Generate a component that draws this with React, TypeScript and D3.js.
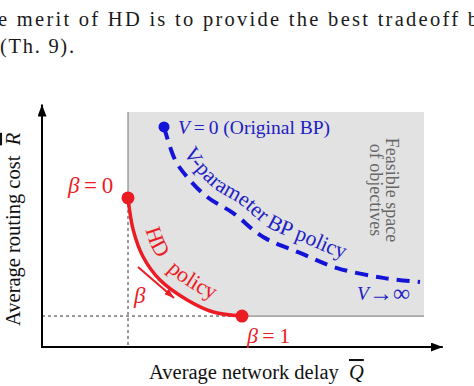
import React, { useEffect, useRef } from 'react';
import * as d3 from 'd3';

// HD policy curve (normalised delay / cost units)
const hdDelay = [2.15, 2.28, 2.53, 2.95, 3.63, 4.28, 5.0];
const hdCost = [6.21, 4.88, 3.75, 2.79, 1.96, 1.46, 1.29];

// V-parameter BP policy curve
const bpDelay = [3.05, 3.33, 3.63, 4.13, 4.78, 5.53, 6.45, 7.38, 8.53, 9.45];
const bpCost = [9.17, 7.79, 7.08, 6.25, 5.58, 4.58, 3.92, 3.29, 2.88, 2.71];

// feasible region bounds
const feasibleDelay = [2.15, 9.55];
const feasibleCost = [1.29, 9.79];

const RED = '#ec1c24';
const BLUE = '#1414d8';
const BLUE_TEXT = '#2020c4';
const SERIF = '"Liberation Serif", "Times New Roman", serif';

const App = () => {
  const svgRef = useRef<SVGSVGElement>(null);

  useEffect(() => {
    const width = 474;
    const height = 386;
    const svg = d3.select(svgRef.current).attr('width', width).attr('height', height);
    svg.selectAll('*').remove();

    const x = d3.scaleLinear().domain([0, 10]).range([42, 442]);
    const y = d3.scaleLinear().domain([0, 10]).range([347, 107]);

    const hd: [number, number][] = hdDelay.map((d, i) => [x(d), y(hdCost[i])]);
    const bp: [number, number][] = bpDelay.map((d, i) => [x(d), y(bpCost[i])]);

    const line = d3.line().curve(d3.curveCatmullRom.alpha(0.5));

    // offset a polyline to its upper-right side (for label paths)
    const offset = (pts: [number, number][], dist: number) =>
      pts.map((p, i) => {
        const a = pts[Math.max(0, i - 1)];
        const b = pts[Math.min(pts.length - 1, i + 1)];
        const tx = b[0] - a[0];
        const ty = b[1] - a[1];
        const len = Math.hypot(tx, ty);
        return [p[0] + (ty / len) * dist, p[1] - (tx / len) * dist] as [number, number];
      });

    const defs = svg.append('defs');
    const marker = (id: string, color: string, w: number, h: number) =>
      defs.append('marker')
        .attr('id', id)
        .attr('viewBox', `0 0 ${w} ${h}`)
        .attr('refX', w).attr('refY', h / 2)
        .attr('markerWidth', w).attr('markerHeight', h)
        .attr('markerUnits', 'userSpaceOnUse')
        .attr('orient', 'auto')
        .append('path')
        .attr('d', `M0,0L${w},${h / 2}L0,${h}Z`)
        .attr('fill', color);
    marker('axisHead', '#000', 12, 9);
    marker('redHead', RED, 10, 7);

    // top caption text (cropped paper text)
    svg.append('text')
      .attr('x', -2).attr('y', 26)
      .attr('textLength', 480).attr('lengthAdjust', 'spacing')
      .style('font-family', SERIF).style('font-size', '20.5px').attr('fill', '#1a1a1a')
      .text('e merit of HD is to provide the best tradeoff b');
    svg.append('text')
      .attr('x', 0).attr('y', 53)
      .attr('textLength', 74).attr('lengthAdjust', 'spacing')
      .style('font-family', SERIF).style('font-size', '20.5px').attr('fill', '#1a1a1a')
      .text('(Th. 9).');

    // feasible region
    const [x0, x1] = feasibleDelay.map(x);
    const [yb, yt] = feasibleCost.map(y);
    const back = line([...hd].reverse()) as string;
    svg.append('path')
      .attr('d', `M${x0},${yt}L${x1},${yt}L${x1},${yb}L${hd[hd.length - 1][0]},${yb}` + back.replace(/^M/, 'L') + 'Z')
      .attr('fill', '#e2e2e2');
    svg.append('line')
      .attr('x1', x0).attr('x2', x0).attr('y1', yt).attr('y2', hd[0][1])
      .attr('stroke', '#8a8a8a').attr('stroke-width', 1.2);
    svg.append('line')
      .attr('x1', hd[hd.length - 1][0]).attr('x2', x1).attr('y1', yb).attr('y2', yb)
      .attr('stroke', '#8a8a8a').attr('stroke-width', 1.2);

    // dashed guides
    svg.append('line')
      .attr('x1', x0).attr('x2', x0).attr('y1', hd[0][1]).attr('y2', y(0))
      .attr('stroke', '#333').attr('stroke-width', 1).attr('stroke-dasharray', '3,3');
    svg.append('line')
      .attr('x1', x(0)).attr('x2', hd[hd.length - 1][0]).attr('y1', yb).attr('y2', yb)
      .attr('stroke', '#333').attr('stroke-width', 1).attr('stroke-dasharray', '3,3');

    // axes
    svg.append('line')
      .attr('x1', x(0)).attr('y1', y(0)).attr('x2', x(0)).attr('y2', y(10.1))
      .attr('stroke', '#000').attr('stroke-width', 2).attr('marker-end', 'url(#axisHead)');
    svg.append('line')
      .attr('x1', x(0) - 1).attr('y1', y(0)).attr('x2', x(10.02)).attr('y2', y(0))
      .attr('stroke', '#000').attr('stroke-width', 2).attr('marker-end', 'url(#axisHead)');

    // BP curve
    svg.append('path')
      .attr('d', line(bp) as string)
      .attr('fill', 'none').attr('stroke', BLUE).attr('stroke-width', 4)
      .attr('stroke-dasharray', '13,8');
    svg.append('circle').attr('cx', bp[0][0]).attr('cy', bp[0][1]).attr('r', 5.5).attr('fill', BLUE);

    // HD curve
    svg.append('path')
      .attr('d', line(hd) as string)
      .attr('fill', 'none').attr('stroke', RED).attr('stroke-width', 3.5);
    svg.append('circle').attr('cx', hd[0][0]).attr('cy', hd[0][1]).attr('r', 6.5).attr('fill', RED);
    svg.append('circle').attr('cx', hd[hd.length - 1][0]).attr('cy', hd[hd.length - 1][1]).attr('r', 6.5).attr('fill', RED);

    // label paths
    defs.append('path').attr('id', 'bpLabel').attr('d', line(offset(bp, 11)) as string);
    defs.append('path').attr('id', 'hdLabel').attr('d', line(offset(hd, 12)) as string);

    const bpText = svg.append('text')
      .style('font-family', SERIF).style('font-size', '21.5px').attr('fill', BLUE_TEXT);
    bpText.append('textPath').attr('href', '#bpLabel').attr('startOffset', 30)
      .text('V-parameter BP policy');

    const hdText = svg.append('text')
      .style('font-family', SERIF).style('font-size', '22px').attr('fill', RED)
      .style('word-spacing', '9px');
    hdText.append('textPath').attr('href', '#hdLabel').attr('startOffset', 34)
      .text('HD policy');

    // point labels
    const v0 = svg.append('text').attr('x', 178).attr('y', 134)
      .style('font-family', SERIF).style('font-size', '19.5px').attr('fill', BLUE_TEXT);
    v0.append('tspan').style('font-style', 'italic').text('V');
    v0.append('tspan').text('\u2009=\u20090 (Original BP)');

    const vInf = svg.append('text').attr('x', 357).attr('y', 300)
      .style('font-family', SERIF).style('font-size', '19.5px').attr('fill', BLUE_TEXT);
    vInf.append('tspan').style('font-style', 'italic').text('V');
    vInf.append('tspan').style('font-size', '24px').attr('dy', 1).text('\u2192');
    vInf.append('tspan').style('font-size', '24px').attr('dy', 0).text('\u221E');

    const b0 = svg.append('text').attr('x', 68).attr('y', 193)
      .style('font-family', SERIF).style('font-size', '23px').attr('fill', RED);
    b0.append('tspan').style('font-style', 'italic').text('\u03B2');
    b0.append('tspan').text('\u2009=\u20090');

    const b1 = svg.append('text').attr('x', 247).attr('y', 343)
      .style('font-family', SERIF).style('font-size', '22px').attr('fill', RED);
    b1.append('tspan').style('font-style', 'italic').text('\u03B2');
    b1.append('tspan').text('\u2009=\u20091');

    // beta arrow
    svg.append('line')
      .attr('x1', 138).attr('y1', 267).attr('x2', 174).attr('y2', 298)
      .attr('stroke', RED).attr('stroke-width', 2).attr('marker-end', 'url(#redHead)');
    svg.append('text').attr('x', 134).attr('y', 303)
      .style('font-family', SERIF).style('font-size', '23px').style('font-style', 'italic').attr('fill', RED)
      .text('\u03B2');

    // feasible region label
    const feas = svg.append('text')
      .attr('transform', `translate(386, 190) rotate(90)`)
      .attr('text-anchor', 'middle')
      .style('font-family', SERIF).style('font-size', '18px').attr('fill', '#666');
    feas.append('tspan').attr('x', 0).attr('dy', 0).text('Feasible space');
    feas.append('tspan').attr('x', 0).attr('dy', 16).text('of objectives');

    // axis titles
    const xt = svg.append('text').attr('x', 149).attr('y', 379)
      .style('font-family', SERIF).style('font-size', '20.5px').attr('fill', '#111');
    xt.append('tspan').text('Average network delay\u2002');
    xt.append('tspan').style('font-style', 'italic').style('text-decoration', 'overline').text('Q');

    const yt2 = svg.append('text').attr('transform', 'translate(20, 326) rotate(-90)')
      .style('font-family', SERIF).style('font-size', '20.5px').attr('fill', '#111');
    yt2.append('tspan').text('Average routing cost\u2002');
    yt2.append('tspan').style('font-style', 'italic').style('text-decoration', 'overline').text('R');
  }, []);

  return (
    <div style={{ position: 'absolute', left: 0, top: 0 }}>
      <svg ref={svgRef} style={{ display: 'block', background: '#fff' }}></svg>
    </div>
  );
};

export default App;
